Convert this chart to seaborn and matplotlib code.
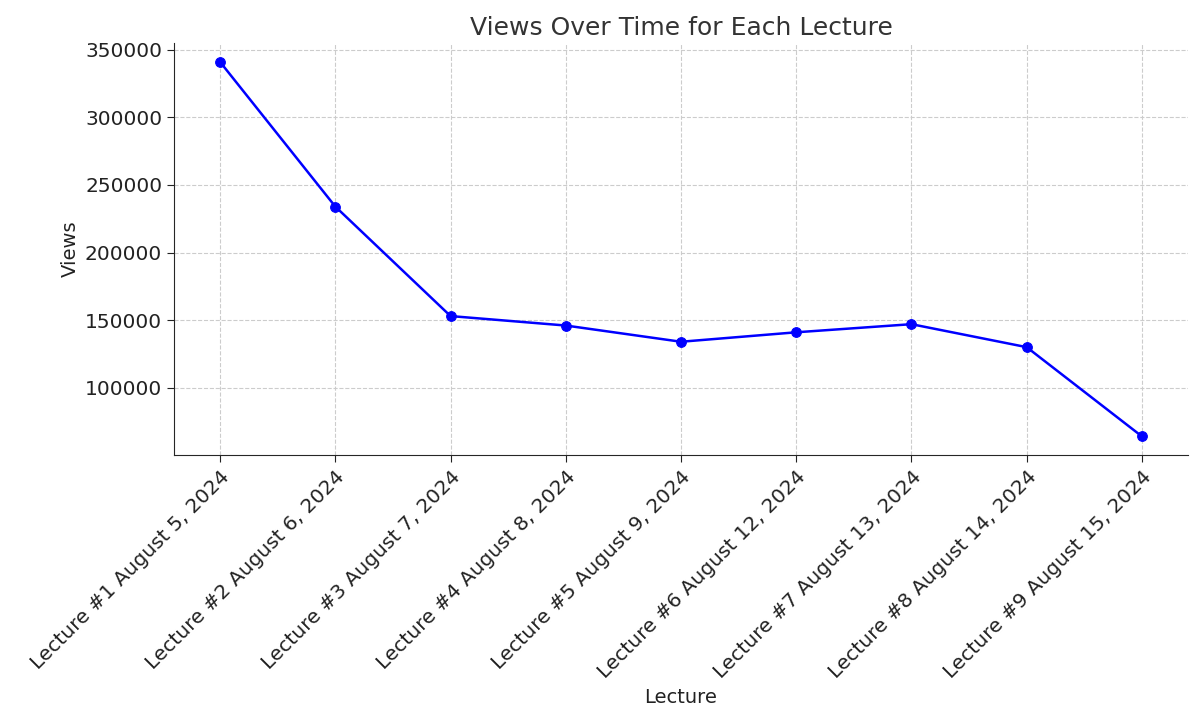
import matplotlib
matplotlib.use("Agg")
import matplotlib.pyplot as plt
import seaborn as sns
import pandas as pd

lectures = ["Lecture #1 August 5, 2024", "Lecture #2 August 6, 2024", "Lecture #3 August 7, 2024",
            "Lecture #4 August 8, 2024", "Lecture #5 August 9, 2024", "Lecture #6 August 12, 2024",
            "Lecture #7 August 13, 2024", "Lecture #8 August 14, 2024", "Lecture #9 August 15, 2024"]
views = [341000, 234000, 153000, 146000, 134000, 141000, 147000, 130000, 64000]

sns.set_style("ticks")
plt.rcParams['font.family'] = ['DejaVu Sans']
df = pd.DataFrame({"Lecture": lectures, "Views": views})

fig = plt.figure(figsize=(12, 7.17), dpi=100)
ax = fig.add_axes([0.145, 0.365, 0.845, 0.575])
sns.lineplot(data=df, x="Lecture", y="Views", marker="o", color="blue", linewidth=1.8,
             markersize=7, markeredgecolor="blue", sort=False, ax=ax)
ax.grid(True, linestyle="--", color="#cccccc", linewidth=0.8)
ax.set_title("Views Over Time for Each Lecture", fontsize=18, color="#333333")
ax.set_xlabel("Lecture", fontsize=14, color="#222222")
ax.set_ylabel("Views", fontsize=14, color="#222222")
ax.tick_params(labelsize=14.5, colors="#222222", length=5)
plt.setp(ax.get_xticklabels(), rotation=45, ha="right", rotation_mode="anchor")
ax.set_yticks([100000, 150000, 200000, 250000, 300000, 350000])
ax.set_ylim(50000, 355000)
ax.set_xlim(-0.4, 8.4)
sns.despine(ax=ax)
fig.savefig("out.png", dpi=100)
